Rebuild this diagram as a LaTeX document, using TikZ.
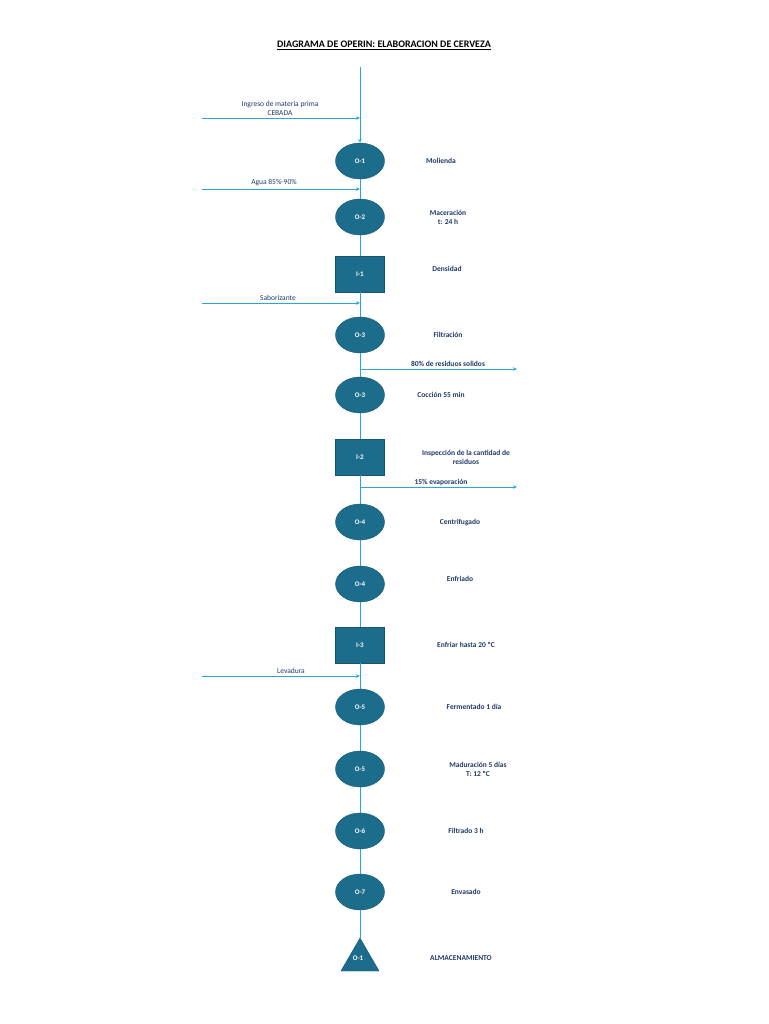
\documentclass[tikz,border=0pt]{standalone}
\usepackage{fontspec}
\setmainfont{Carlito}
\usetikzlibrary{shapes.geometric,arrows.meta}
\definecolor{fill}{HTML}{1C6C8C}
\definecolor{ln}{HTML}{2AA6D8}
\definecolor{tx}{HTML}{1F3A66}
\begin{document}
\begin{tikzpicture}[x=1pt,y=-1pt,
 op/.style={ellipse,fill=fill,draw=fill!80!black,minimum width=49,minimum height=36,inner sep=0,text=white,font=\fontsize{7}{8}\selectfont\bfseries},
 insp/.style={rectangle,fill=fill,draw=fill!80!black,minimum width=49,minimum height=36,inner sep=0,text=white,font=\fontsize{7}{8}\selectfont\bfseries},
 stor/.style={regular polygon,regular polygon sides=3,fill=fill,draw=fill!80!black,minimum size=44,inner sep=0,text=white,font=\fontsize{7}{8}\selectfont\bfseries},
 lbl/.style={text=tx,font=\fontsize{7.5}{9}\selectfont\bfseries,align=center},
 flow/.style={ln,line width=0.8},
 arr/.style={ln,line width=0.8,-{Stealth[length=4,width=3.5]}}]
\useasboundingbox (0,0) rectangle (768,1024);
\node[font=\fontsize{10}{12}\selectfont\bfseries] (title) at (384,45) {\underline{DIAGRAMA DE OPERIN: ELABORACION DE CERVEZA}};
\coordinate (top) at (360,67);
\node[op] (n1) at (360,161) {O-1};
\node[op] (n2) at (360,217) {O-2};
\node[insp] (n3) at (360,274) {I-1};
\node[op] (n4) at (360,335) {O-3};
\node[op] (n5) at (360,395) {O-3};
\node[insp] (n6) at (360,457) {I-2};
\node[op] (n7) at (360,522) {O-4};
\node[op] (n8) at (360,584) {O-4};
\node[insp] (n9) at (360,645) {I-3};
\node[op] (n10) at (360,707) {O-5};
\node[op] (n11) at (360,769) {O-5};
\node[op] (n12) at (360,831) {O-6};
\node[op] (n13) at (360,892) {O-7};
\node[stor] (n14) at (360,960) {};
\node[text=white,font=\fontsize{7}{8}\selectfont\bfseries] (n14t) at (358,958) {O-1};
\draw[arr] (top) -- (n1);
\foreach \a/\b in {n1/n2,n2/n3,n3/n4,n4/n5,n5/n6,n6/n7,n7/n8,n8/n9,n9/n10,n10/n11,n11/n12,n12/n13,n13/n14}
  \draw[flow] (\a) -- (\b);
% labels
\node[lbl] (l1) at (441,161) {Molienda};
\node[lbl] (l2) at (448,217) {Maceración\\t: 24 h};
\node[lbl] (l3) at (447,269) {Densidad};
\node[lbl] (l4) at (448,335) {Filtración};
\node[lbl] (l5) at (441,395) {Cocción 55 min};
\node[lbl] (l6) at (466,457) {Inspección de la cantidad de\\residuos};
\node[lbl] (l7) at (460,522) {Centrifugado};
\node[lbl] (l8) at (460,579) {Enfriado};
\node[lbl] (l9) at (466,645) {Enfriar hasta 20 ºC};
\node[lbl] (l10) at (474,707) {Fermentado 1 día};
\node[lbl] (l11) at (478,769) {Maduración 5 días\\T: 12 ºC};
\node[lbl] (l12) at (466,831) {Filtrado 3 h};
\node[lbl] (l13) at (466,892) {Envasado};
\node[lbl] (l14) at (461,958) {ALMACENAMIENTO};
% inputs
\coordinate (i1) at (202,118); \coordinate (i1e) at (360,118);
\coordinate (i2) at (202,189); \coordinate (i2e) at (360,189);
\coordinate (i3) at (202,303); \coordinate (i3e) at (360,303);
\coordinate (i4) at (202,676); \coordinate (i4e) at (360,676);
\draw[arr] (i1) -- (i1e); \draw[arr] (i2) -- (i2e);
\draw[arr] (i3) -- (i3e); \draw[arr] (i4) -- (i4e);
\node[lbl,font=\fontsize{7.5}{9}\selectfont] (t1) at (280,108) {Ingreso de materia prima\\CEBADA};
\node[lbl,font=\fontsize{7.5}{9}\selectfont] (t2) at (274,183) {Agua 85\%-90\%};
\node[lbl,font=\fontsize{7.5}{9}\selectfont] (t3) at (278,298) {Saborizante};
\node[lbl,font=\fontsize{7.5}{9}\selectfont] (t4) at (291,671) {Levadura};
% outputs
\coordinate (o1) at (360,369); \coordinate (o1e) at (517,369);
\coordinate (o2) at (360,487); \coordinate (o2e) at (517,487);
\draw[arr] (o1) -- (o1e); \draw[arr] (o2) -- (o2e);
\node[lbl] (t5) at (448,364) {80\% de residuos solidos};
\node[lbl] (t6) at (441,482) {15\% evaporación};
\end{tikzpicture}
\end{document}
